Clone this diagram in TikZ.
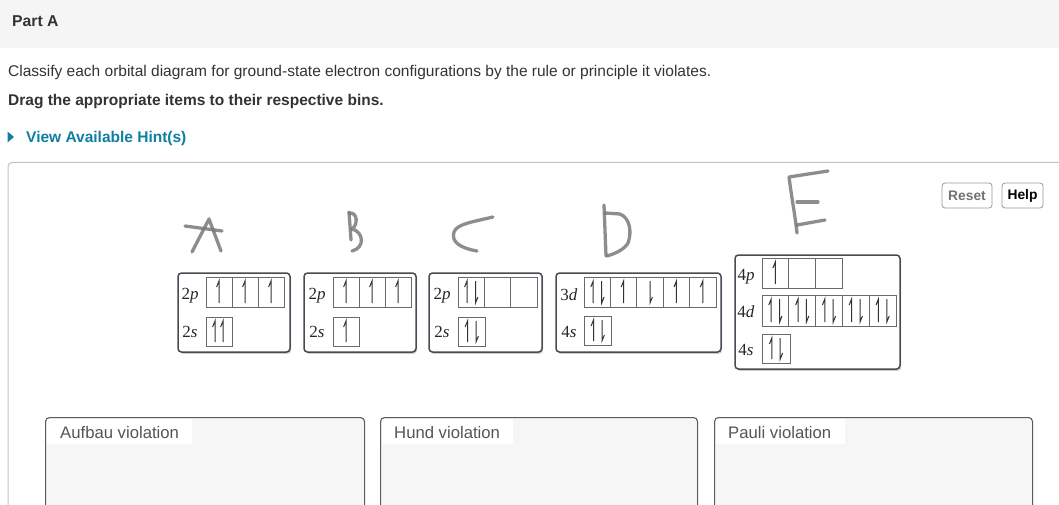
\documentclass[tikz,border=0pt]{standalone}
\usepackage{fontspec}
\setmainfont{Liberation Sans}
\newfontfamily\orbfont{Liberation Serif}
\usetikzlibrary{shadows}
\definecolor{txt}{HTML}{333333}
\definecolor{hint}{HTML}{0E7FA3}
\definecolor{hdr}{HTML}{F5F5F5}
\definecolor{panelline}{HTML}{C2C2C2}
\definecolor{cardline}{HTML}{4A4A54}
\definecolor{binfill}{HTML}{F6F6F6}
\definecolor{binline}{HTML}{5A5A62}
\definecolor{handc}{HTML}{7A7A7A}
\definecolor{orbline}{HTML}{6A6A6A}
\definecolor{arrc}{HTML}{333333}
\definecolor{btnline}{HTML}{9A9A9A}
\definecolor{bintxt}{HTML}{555555}
\newcommand\orbrow[5]{\foreach \k in {1,...,#5}{\draw[orb] ({#1+(\k-1)*#3},#2) rectangle ++(#3,#4);}}
\newcommand\upar[3]{\draw[arr] (#1,#3) -- (#1,#2) -- ++(-2.4,6);}
\newcommand\dnar[3]{\draw[arr] (#1,#2) -- (#1,#3) -- ++(2.4,-6);}
\begin{document}
\begin{tikzpicture}[x=1pt,y=-1pt,
  t14/.style={font=\fontsize{15.5}{17}\selectfont, text=txt, inner sep=0pt, anchor=base west},
  card/.style={draw=cardline, line width=1.5pt, rounded corners=3.5pt, fill=white,
     drop shadow={shadow xshift=1.2pt, shadow yshift=-1.8pt, opacity=.4}, inner sep=0pt},
  orb/.style={draw=orbline, line width=.65pt},
  arr/.style={draw=arrc, line width=1pt, line join=miter},
  olab/.style={font=\orbfont\fontsize{17}{19}\selectfont, text=black!85, inner sep=0pt, anchor=base},
  hand/.style={draw=handc, line width=3.3pt, line cap=round, line join=round, opacity=.85},
  btn/.style={draw=btnline, line width=.8pt, rounded corners=3pt, fill=white, minimum height=25pt, inner sep=0pt,
     font=\bfseries\fontsize{13.8}{15}\selectfont},
  bin/.style={draw=binline, line width=1.1pt, rounded corners=4pt, fill=binfill, inner sep=0pt},
  binlab/.style={fill=white, inner sep=0pt, anchor=north west},
  bintext/.style={font=\fontsize{16.7}{19}\selectfont, text=bintxt, inner sep=0pt, anchor=base west}
]
\clip (0,0) rectangle (1059,505);
\fill[white] (0,0) rectangle (1059,505);
% header
\fill[hdr] (0,0) rectangle (1059,48);
\node[t14, font=\bfseries\fontsize{15.7}{17}\selectfont] (parta) at (12,27) {Part A};
\node[t14] (classify) at (8,77) {Classify each orbital diagram for ground-state electron configurations by the rule or principle it violates.};
\node[t14, font=\bfseries\fontsize{15.5}{17}\selectfont] (drag) at (8,106) {Drag the appropriate items to their respective bins.};
\fill[hint] (7.5,131.5) -- (14,137) -- (7.5,142.5) -- cycle;
\node[t14, font=\bfseries\fontsize{15.5}{17}\selectfont, text=hint] (hintlink) at (26,143) {View Available Hint(s)};
% panel
\draw[panelline, line width=1pt, rounded corners=4pt] (1070,162.5) -- (8,162.5) -- (8,520);
% buttons
\node[btn, minimum width=50pt, text=black!55] (reset) at (967,195.5) {Reset};
\node[btn, minimum width=41pt, text=black] (help) at (1022.5,195.5) {Help};
% handwritten letters
\draw[hand] (192,252) -- (209,219) -- (221,251);
\draw[hand] (185,226) -- (222,231);
\draw[hand] (349,212) -- (351,240);
\draw[hand] (349,213) .. controls (358,212) and (358,225) .. (352,229) .. controls (364,232) and (365,248) .. (352,251);
\draw[hand] (493,217) .. controls (472,222) and (457,224) .. (454,232) .. controls (451,242) and (460,248) .. (477,251);
\draw[hand] (604,205) -- (606,256);
\draw[hand] (605,213) -- (620,214) .. controls (630,218) and (632,232) .. (628,243) .. controls (624,250) and (614,254) .. (607,256);
\draw[hand] (828,171) -- (789,177) .. controls (792,200) and (795,215) .. (797,233);
\draw[hand] (797,202) -- (818,202);
\draw[hand] (797,225) -- (825,220);
% cards
\node[card, minimum width=112pt, minimum height=79pt] (cardA) at (234,312.5) {};
\node[card, minimum width=112pt, minimum height=79pt] (cardB) at (360,312.5) {};
\node[card, minimum width=113pt, minimum height=79pt] (cardC) at (485.5,312.5) {};
\node[card, minimum width=165pt, minimum height=79pt] (cardD) at (638.5,312.5) {};
\node[card, minimum width=165pt, minimum height=114pt] (cardE) at (817.5,312) {};
% card A
\node[olab] (a2p) at (190,299) {2\textit{p}};
\node[olab] (a2s) at (190,337) {2\textit{s}};
\orbrow{206}{277}{26}{30}{3}
\orbrow{206}{317}{26}{29}{1}
\upar{219}{281}{303}\upar{245}{281}{303}\upar{271}{281}{303}
\upar{215}{321}{342}\upar{223}{321}{342}
% card B
\node[olab] (b2p) at (317,299) {2\textit{p}};
\node[olab] (b2s) at (317,337) {2\textit{s}};
\orbrow{333}{277}{26}{30}{3}
\orbrow{333}{317}{26}{29}{1}
\upar{346}{281}{303}\upar{372}{281}{303}\upar{398}{281}{303}
\upar{346}{321}{342}
% card C
\node[olab] (c2p) at (442,299) {2\textit{p}};
\node[olab] (c2s) at (442,337) {2\textit{s}};
\orbrow{458}{277}{26.3}{30}{3}
\orbrow{458}{317}{27}{29}{1}
\upar{467}{281}{303}\dnar{475.5}{281}{303}
\upar{467.5}{321}{342}\dnar{476}{321}{342}
% card D
\node[olab] (d3d) at (569,300) {3\textit{d}};
\node[olab] (d4s) at (569,337) {4\textit{s}};
\orbrow{584}{277}{26.4}{30}{5}
\orbrow{584}{316}{27}{29}{1}
\upar{593.2}{281}{303}\dnar{601.7}{281}{303}
\upar{623.6}{281}{303}
\dnar{650}{281}{303}
\upar{676.4}{281}{303}
\upar{702.8}{281}{303}
\upar{593.5}{320}{341}\dnar{602}{320}{341}
% card E
\node[olab] (e4p) at (746,280) {4\textit{p}};
\node[olab] (e4d) at (746,317) {4\textit{d}};
\node[olab] (e4s) at (746,355) {4\textit{s}};
\orbrow{762}{258}{26.7}{30}{3}
\orbrow{762}{295}{26.8}{31}{5}
\orbrow{762}{334}{28}{29}{1}
\upar{775.3}{262}{284}
\foreach \c in {775.4,802.2,829,855.8,882.6}{\upar{\c-4.2}{299}{322}\dnar{\c+4.2}{299}{322}}
\upar{771.8}{338}{359}\dnar{780.2}{338}{359}
% bins
\node[bin, minimum width=319pt, minimum height=110pt, anchor=north west] (aufbau) at (45,417) {};
\node[bin, minimum width=317pt, minimum height=110pt, anchor=north west] (hund) at (380,417) {};
\node[bin, minimum width=318pt, minimum height=110pt, anchor=north west] (pauli) at (714,417) {};
\node[binlab, minimum width=145pt, minimum height=25pt] (aufbaubg) at (47,419) {};
\node[binlab, minimum width=131pt, minimum height=25pt] (hundbg) at (382,419) {};
\node[binlab, minimum width=129pt, minimum height=25pt] (paulibg) at (716,419) {};
\node[bintext] (aufbaulab) at (60,438) {Aufbau violation};
\node[bintext] (hundlab) at (394,438) {Hund violation};
\node[bintext] (paulilab) at (728,438) {Pauli violation};
\end{tikzpicture}
\end{document}
